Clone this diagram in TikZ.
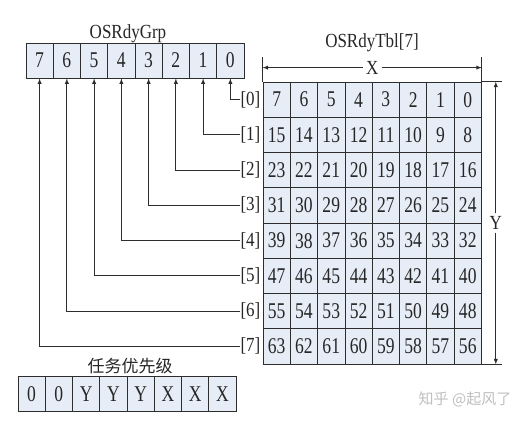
\documentclass[tikz,border=0pt]{standalone}
\usepackage{fontspec}
\setmainfont{Liberation Serif}[FakeStretch=0.85]
\newfontfamily\cellfont{Liberation Serif}[FakeStretch=0.78]
\newfontfamily\cjk{Noto Sans CJK SC}
\usepackage{xcolor}
\usepackage{tikz}
\usetikzlibrary{
    positioning,
    calc,
    arrows
}
\definecolor{cellfill}{RGB}{230,237,247}
\definecolor{linegray}{RGB}{45,45,45}
\tikzset{
  cell/.style = {
      draw=linegray,
      fill=cellfill,
      minimum width=27.25pt,
      minimum height=35pt,
      inner sep=0pt,
      line width=0.8pt,
      text=black!85,
      font=\cellfont\fontsize{22.5}{22.5}\selectfont
  },
  tblcell/.style = {
      cell,
      minimum width=27.3pt,
      minimum height=35.25pt
  },
  title/.style = {
      inner sep=0pt,
      text=black!85,
      font=\fontsize{20}{20}\selectfont
  },
  rowlabel/.style = {
      title,
      anchor=east
  },
  edge/.style = {
      draw=linegray,
      line width=0.9pt
  },
  arrow/.style = {
      edge,
      -latex
  }
}

\begin{document}
\begin{tikzpicture}[x=1pt,y=-1pt]
    \useasboundingbox (0,0) rectangle (528,424);
    % OSRdyGrp
    \foreach \k in {0,...,7}{
        \pgfmathtruncatemacro\b{7-\k}
        \node[cell] (grp\b) at ({26+(\k+0.5)*27.25},60.5) {\b};
    }
    \node[title, anchor=base] (grptitle) at (128,38) {OSRdyGrp};
    % OSRdyTbl
    \foreach \r in {0,...,7}{
        \foreach \k in {0,...,7}{
            \pgfmathtruncatemacro\v{8*\r+7-\k}
            \node[tblcell] (tbl-\r-\k) at ({263+(\k+0.5)*27.3},{82+(\r+0.5)*35.25}) {\v};
        }
        \node[rowlabel, left=2pt of tbl-\r-0] (row\r) {[\r]};
    }
    \node[title, anchor=base] (tbltitle) at (372,47) {OSRdyTbl[7]};
    % Edges
    \foreach \r in {0,...,7}{
        \draw[arrow] (row\r.west) -| (grp\r.south);
    }
    % X
    \node[title, fill=white, inner xsep=3pt] (xlab) at ($(tbl-0-0.north west)!0.5!(tbl-0-7.north east)+(0,-14)$) {X};
    \draw[edge] (tbl-0-0.north west) -- ++(0,-25);
    \draw[edge] (tbl-0-7.north east) -- ++(0,-25);
    \draw[arrow] (xlab) -- (xlab -| tbl-0-0.west);
    \draw[arrow] (xlab) -- (xlab -| tbl-0-7.east);
    % Y
    \node[title, fill=white, inner ysep=3pt] (ylab) at ($(tbl-0-7.north east)!0.5!(tbl-7-7.south east)+(14,0)$) {Y};
    \draw[edge] (tbl-0-7.north east) -- ++(20,0);
    \draw[edge] (tbl-7-7.south east) -- ++(20,0);
    \draw[arrow] (ylab) -- (ylab |- tbl-0-7.north);
    \draw[arrow] (ylab) -- (ylab |- tbl-7-7.south);
    % priority
    \foreach \t [count=\k from 0] in {0,0,Y,Y,Y,X,X,X}{
        \node[cell] (prio\k) at ({18+(\k+0.5)*27.25},394) {\t};
    }
    \node[title, font=\cjk\fontsize{17}{17}\selectfont] (priotitle) at (130,366) {任务优先级};
    \node[text=black!25, font=\cjk\fontsize{15}{15}\selectfont] (mark) at (465,399) {知乎 @起风了};
\end{tikzpicture}
\end{document}
